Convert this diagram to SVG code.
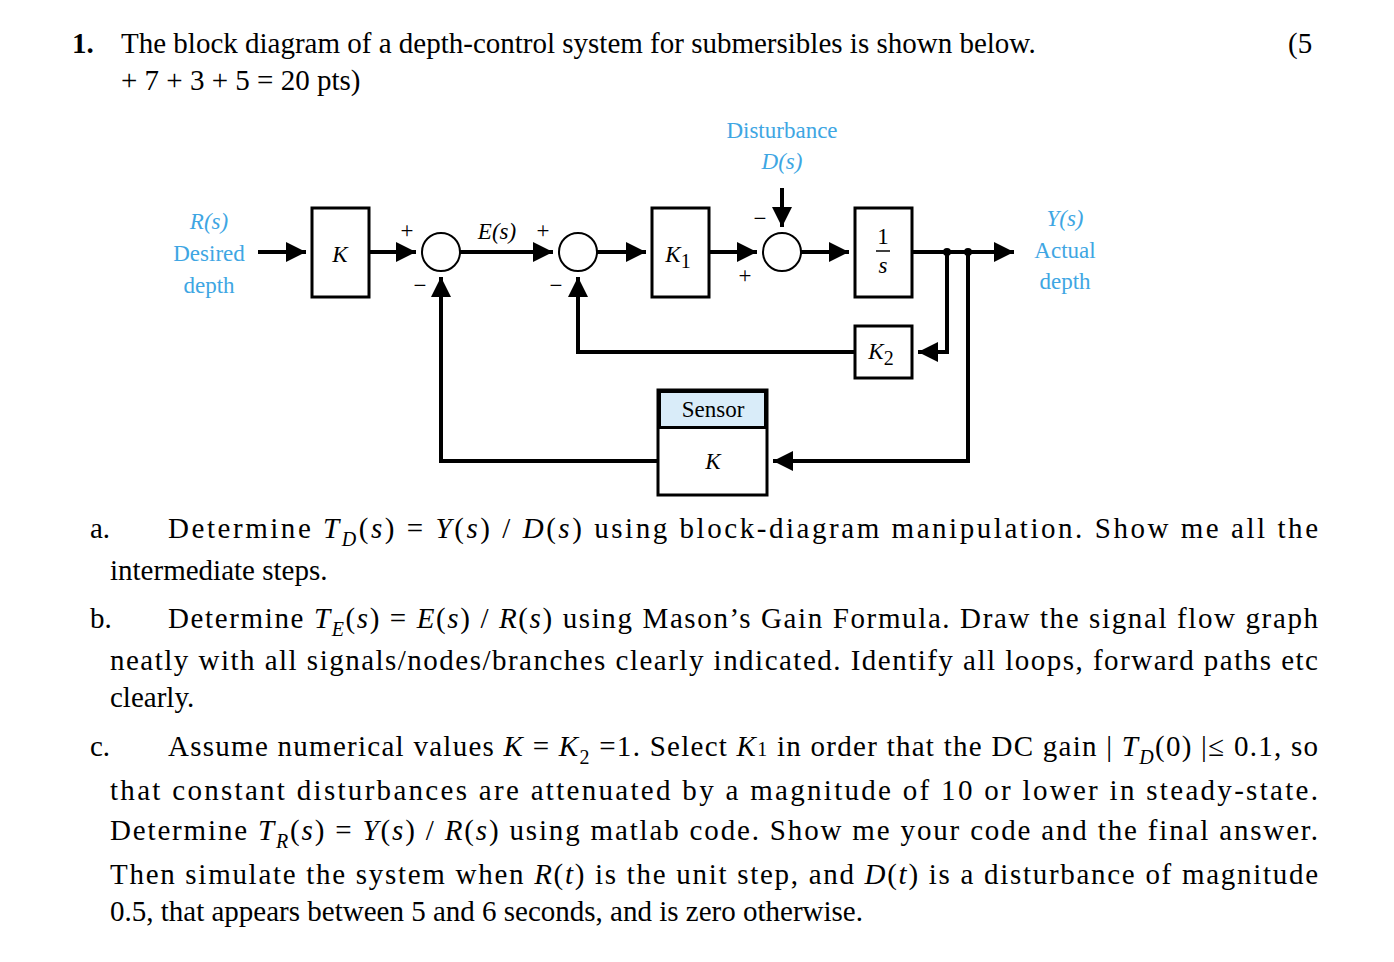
<svg xmlns="http://www.w3.org/2000/svg" width="1394" height="962" viewBox="0 0 1394 962">
<style>
text{font-family:"Liberation Serif","Times New Roman",serif;fill:#000}
.t{font-size:29px}
.b{fill:#fff;stroke:#000;stroke-width:3}
.c{fill:#fff;stroke:#000;stroke-width:2}
.w{fill:none;stroke:#000;stroke-width:4}
.blue{fill:#3ea6e3;font-size:23px;text-anchor:middle}
.lb{font-size:23px;text-anchor:middle}
.i{font-style:italic}
.s{font-size:20px}
</style>
<defs><marker id="a" markerWidth="6" markerHeight="6" refX="5" refY="3" orient="auto" markerUnits="strokeWidth"><path d="M0,0.5 L5,3 L0,5.5 z" fill="#000"/></marker></defs>
<g id="title" class="t">
<text x="72" y="53" font-weight="bold">1.</text>
<text x="121" y="53">The block diagram of a depth-control system for submersibles is shown below.</text>
<text x="1288" y="53">(5</text>
<text x="121" y="90">+ 7 + 3 + 5 = 20 pts)</text>
</g>
<g id="connectors">
<line class="w" x1="258" y1="252" x2="306" y2="252" marker-end="url(#a)"/>
<line class="w" x1="369" y1="252" x2="416" y2="252" marker-end="url(#a)"/>
<line class="w" x1="460" y1="252" x2="553" y2="252" marker-end="url(#a)"/>
<line class="w" x1="597" y1="252" x2="646" y2="252" marker-end="url(#a)"/>
<line class="w" x1="709" y1="252" x2="757" y2="252" marker-end="url(#a)"/>
<line class="w" x1="782" y1="188" x2="782" y2="227" marker-end="url(#a)"/>
<line class="w" x1="801" y1="252" x2="849" y2="252" marker-end="url(#a)"/>
<line class="w" x1="912" y1="252" x2="1014" y2="252" marker-end="url(#a)"/>
<polyline class="w" points="947,252 947,352 918,352" marker-end="url(#a)"/>
<polyline class="w" points="855,352 578,352 578,277" marker-end="url(#a)"/>
<polyline class="w" points="968,252 968,461 773,461" marker-end="url(#a)"/>
<polyline class="w" points="658,461 441,461 441,277" marker-end="url(#a)"/>
<circle cx="947" cy="252" r="4"/><circle cx="968" cy="252" r="4"/>
</g>
<g id="labels">
<text class="blue i" x="209" y="229">R(s)</text>
<text class="blue" x="209" y="261">Desired</text>
<text class="blue" x="209" y="293">depth</text>
<text class="blue i" x="1065" y="226">Y(s)</text>
<text class="blue" x="1065" y="258">Actual</text>
<text class="blue" x="1065" y="289">depth</text>
<text class="blue" x="782" y="138">Disturbance</text>
<text class="blue i" x="782" y="169">D(s)</text>
<text class="lb i" x="497" y="239">E(s)</text>
<text class="lb" x="407" y="238">+</text><text class="lb" x="420" y="293">−</text>
<text class="lb" x="543" y="238">+</text><text class="lb" x="556" y="293">−</text>
<text class="lb" x="760" y="226">−</text><text class="lb" x="745" y="283">+</text>
</g>
<g id="blockK"><rect class="b" x="312" y="208" width="57" height="89"/><text class="lb i" x="340" y="262">K</text></g>
<g id="sum1"><circle class="c" cx="441" cy="252" r="19"/></g>
<g id="sum2"><circle class="c" cx="578" cy="252" r="19"/></g>
<g id="blockK1"><rect class="b" x="652" y="208" width="57" height="89"/><text class="lb i" x="678" y="262">K<tspan class="s" font-style="normal" dy="6">1</tspan></text></g>
<g id="sum3"><circle class="c" cx="782" cy="252" r="19"/></g>
<g id="integrator"><rect class="b" x="855" y="208" width="57" height="89"/><text class="lb" x="883" y="244" font-size="19">1</text><line x1="876" y1="251" x2="890" y2="251" stroke="#000" stroke-width="1.5"/><text class="lb i" x="883" y="273" font-size="19">s</text></g>
<g id="blockK2"><rect class="b" x="855" y="326" width="57" height="52"/><text class="lb i" x="881" y="359">K<tspan class="s" font-style="normal" dy="6">2</tspan></text></g>
<g id="sensor"><rect class="b" x="658" y="390" width="109" height="105"/><rect x="659.5" y="391.5" width="106" height="36" fill="#d9ecf9" stroke="#000" stroke-width="3"/><text class="lb" x="713" y="417">Sensor</text><text class="lb i" x="713" y="469">K</text></g>
<g id="questions" class="t">
<text x="90" y="538">a.</text>
<text x="168" y="538" textLength="1150" lengthAdjust="spacing">Determine <tspan class="i">T</tspan><tspan class="i s" dy="8">D</tspan><tspan dy="-8">(</tspan><tspan class="i">s</tspan>) = <tspan class="i">Y</tspan>(<tspan class="i">s</tspan>) / <tspan class="i">D</tspan>(<tspan class="i">s</tspan>)  using block-diagram manipulation. Show   me   all   the</text>
<text x="110" y="580">intermediate steps.</text>
<text x="90" y="628">b.</text>
<text x="168" y="628" textLength="1150" lengthAdjust="spacing">Determine <tspan class="i">T</tspan><tspan class="i s" dy="8">E</tspan><tspan dy="-8">(</tspan><tspan class="i">s</tspan>) = <tspan class="i">E</tspan>(<tspan class="i">s</tspan>) / <tspan class="i">R</tspan>(<tspan class="i">s</tspan>) using Mason’s Gain Formula. Draw the signal flow graph</text>
<text x="110" y="670" textLength="1208" lengthAdjust="spacing">neatly with all signals/nodes/branches clearly indicated. Identify all loops, forward paths etc</text>
<text x="110" y="707">clearly.</text>
<text x="90" y="756">c.</text>
<text x="168" y="756" textLength="1150" lengthAdjust="spacing">Assume numerical values  <tspan class="i">K</tspan> = <tspan class="i">K</tspan><tspan class="s" dy="8">2</tspan><tspan dy="-8"> =1.</tspan> Select <tspan class="i">K</tspan><tspan class="s">1</tspan> in order that the DC gain | <tspan class="i">T</tspan><tspan class="i s" dy="8">D</tspan><tspan dy="-8">(0) |≤ 0.1, so</tspan></text>
<text x="110" y="800" textLength="1208" lengthAdjust="spacing">that constant disturbances are attenuated by a magnitude of 10 or lower in steady-state.</text>
<text x="110" y="840" textLength="1208" lengthAdjust="spacing">Determine  <tspan class="i">T</tspan><tspan class="i s" dy="8">R</tspan><tspan dy="-8">(</tspan><tspan class="i">s</tspan>) = <tspan class="i">Y</tspan>(<tspan class="i">s</tspan>) / <tspan class="i">R</tspan>(<tspan class="i">s</tspan>)  using matlab code. Show me your code and the final answer.</text>
<text x="110" y="884" textLength="1208" lengthAdjust="spacing">Then simulate the system when <tspan class="i">R</tspan>(<tspan class="i">t</tspan>) is the unit step, and <tspan class="i">D</tspan>(<tspan class="i">t</tspan>) is a disturbance of magnitude</text>
<text x="110" y="921">0.5, that appears between 5 and 6 seconds, and is zero otherwise.</text>
</g>
</svg>
